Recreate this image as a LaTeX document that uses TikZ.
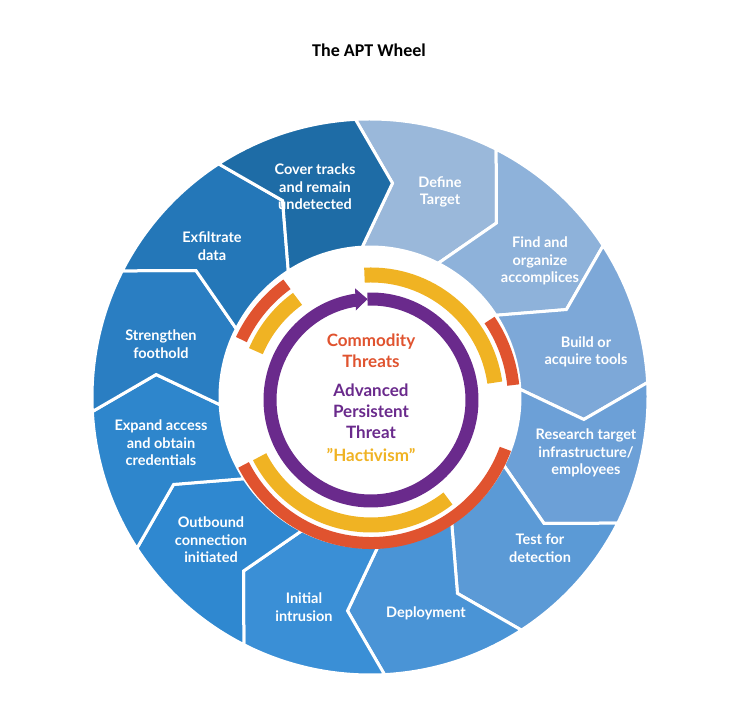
\documentclass[tikz,border=0pt]{standalone}
\usepackage{fontspec}
\setmainfont{Lato}
\newfontfamily\titlefont{Carlito}
\usetikzlibrary{calc,arrows.meta}
\definecolor{c0}{HTML}{9AB8DA}\definecolor{c1}{HTML}{8EB2DA}\definecolor{c2}{HTML}{7DA8D8}
\definecolor{c3}{HTML}{6CA0D7}\definecolor{c4}{HTML}{5B9AD6}\definecolor{c5}{HTML}{4A94D6}
\definecolor{c6}{HTML}{3A8FD6}\definecolor{c7}{HTML}{2F88D0}\definecolor{c8}{HTML}{2E86CC}
\definecolor{c9}{HTML}{2A7EC2}\definecolor{c10}{HTML}{2477B8}\definecolor{c11}{HTML}{1E6CA6}
\definecolor{aptpurple}{HTML}{6A2A8C}\definecolor{aptyellow}{HTML}{F0B323}\definecolor{aptred}{HTML}{E0532F}
\tikzset{seglabel/.style={text=white,font=\bfseries\fontsize{14.5}{17.5}\selectfont,align=center},
  ctext/.style={font=\bfseries\fontsize{17}{21}\selectfont,align=center,inner sep=0pt}}
\begin{document}
\begin{tikzpicture}[x=1pt,y=1pt]
\useasboundingbox (0,0) rectangle (754,725);
\fill[white] (0,0) rectangle (754,725);
\node[font=\titlefont\bfseries\fontsize{18}{20}\selectfont] (title) at (369,675) {The APT Wheel};
\coordinate (C) at (370,328);
\begin{scope}[shift={(370,328)}]
\foreach \k in {0,...,11}{
  \pgfmathsetmacro{\ba}{93-30*\k}
  \pgfmathsetmacro{\bb}{63-30*\k}
  \pgfmathsetmacro{\ma}{84-30*\k}
  \pgfmathsetmacro{\mb}{54-30*\k}
  \fill[c\k,draw=white,line width=3,line join=miter]
    (\ba:278) arc[start angle=\ba,end angle=\bb,radius=278]
    -- (\mb:215) -- (\bb:150) arc[start angle=\bb,end angle=\ba,radius=150]
    -- (\ma:215) -- cycle;
}
\fill[white] (0,0) circle (150);
\begin{scope}[shift={(1,-3)}]
\draw[aptpurple,line width=13] (92:101) arc[start angle=92,end angle=-262,radius=101];
\draw[aptpurple,line width=1pt,-{Triangle[length=12pt,width=22pt]}] (96:101) arc[start angle=96,end angle=92,radius=101];
\draw[aptyellow,line width=15] (93:125) arc[start angle=93,end angle=8,radius=125];
\draw[aptyellow,line width=15] (157:125) arc[start angle=157,end angle=126,radius=125];
\draw[aptyellow,line width=15] (207:125) arc[start angle=207,end angle=308,radius=125];
\draw[aptred,line width=12] (34:143) arc[start angle=34,end angle=6,radius=143];
\draw[aptred,line width=12] (155:143) arc[start angle=155,end angle=126,radius=143];
\draw[aptred,line width=12] (207:143) arc[start angle=207,end angle=340,radius=143];
\end{scope}
\end{scope}
\node[ctext,text=aptred] (ct) at (371,374) {Commodity\\Threats};
\node[ctext,text=aptpurple] (apt) at (371,314) {Advanced\\Persistent\\Threat};
\node[ctext,text=aptyellow] (hac) at (371,270) {''Hactivism''};
\node[seglabel] (s0) at (440,533) {Define\\Target};
\node[seglabel] (s1) at (540,464) {Find and\\organize\\accomplices};
\node[seglabel] (s2) at (586,373) {Build or\\acquire tools};
\node[seglabel] (s3) at (586,272) {Research target\\infrastructure/\\employees};
\node[seglabel] (s4) at (540,177) {Test for\\detection};
\node[seglabel] (s5) at (426,112) {Deployment};
\node[seglabel] (s6) at (304,118) {Initial\\intrusion};
\node[seglabel] (s7) at (211,185) {Outbound\\connection\\initiated};
\node[seglabel] (s8) at (161,282) {Expand access\\and obtain\\credentials};
\node[seglabel] (s9) at (161,381) {Strengthen\\foothold};
\node[seglabel] (s10) at (212,479) {Exfiltrate\\data};
\node[seglabel] (s11) at (315,538) {Cover tracks\\and remain\\undetected};
\end{tikzpicture}
\end{document}
